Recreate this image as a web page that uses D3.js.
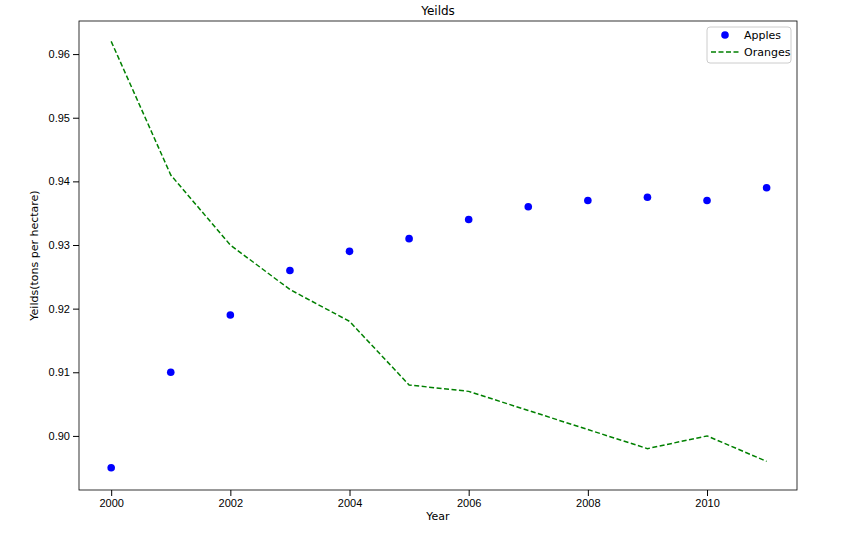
<!DOCTYPE html>
<html><head><meta charset="utf-8">
<script src="https://cdn.jsdelivr.net/npm/d3@7"></script>
<style>body{margin:0;background:#fff;font-family:"DejaVu Sans",sans-serif;}</style>
</head><body><svg id="c" width="858" height="544"></svg>
<script>
const years=[2000,2001,2002,2003,2004,2005,2006,2007,2008,2009,2010,2011];
const apples=[0.895,0.910,0.919,0.926,0.929,0.931,0.934,0.936,0.937,0.9375,0.937,0.939];
const oranges=[0.962,0.941,0.930,0.923,0.918,0.908,0.907,0.904,0.901,0.898,0.900,0.896];
const xTicks=[2000,2002,2004,2006,2008,2010];
const yTicks=[0.90,0.91,0.92,0.93,0.94,0.95,0.96];
const L=79,R=797,T=21,B=490;
const svg=d3.select("#c");
const x=d3.scaleLinear().domain([1999.46,2011.51]).range([L,R]);
const y=d3.scaleLinear().domain([0.8915,0.9652]).range([B,T]);
const fs="11px";
svg.append("g").attr("transform",`translate(0,${B})`).call(d3.axisBottom(x).tickValues(xTicks).tickFormat(d3.format("d")).tickSizeOuter(0))
 .call(g=>{g.select(".domain").remove();g.selectAll("text").style("font-size",fs).attr("fill","#000");});
svg.append("g").attr("transform",`translate(${L},0)`).call(d3.axisLeft(y).tickValues(yTicks).tickFormat(d3.format(".2f")).tickSizeOuter(0))
 .call(g=>{g.select(".domain").remove();g.selectAll("text").style("font-size",fs).attr("fill","#000");});
svg.append("rect").attr("x",L).attr("y",T).attr("width",R-L).attr("height",B-T).attr("fill","none").attr("stroke","#000").attr("stroke-width",0.8);
svg.append("path").datum(years.map((d,i)=>[d,oranges[i]])).attr("d",d3.line().x(d=>x(d[0])).y(d=>y(d[1])))
 .attr("fill","none").attr("stroke","green").attr("stroke-width",1.5).attr("stroke-dasharray","5,2.5");
svg.selectAll(".pt").data(years).enter().append("circle").attr("cx",d=>x(d)).attr("cy",(d,i)=>y(apples[i])).attr("r",3.8).attr("fill","blue");
svg.append("text").attr("x",(L+R)/2).attr("y",15).attr("text-anchor","middle").style("font-size","12px").text("Yeilds");
svg.append("text").attr("x",(L+R)/2).attr("y",520).attr("text-anchor","middle").style("font-size",fs).text("Year");
svg.append("text").attr("transform",`translate(38,${(T+B)/2}) rotate(-90)`).attr("text-anchor","middle").style("font-size",fs).text("Yeilds(tons per hectare)");
const lg=svg.append("g");
lg.append("rect").attr("x",707).attr("y",27).attr("width",84).attr("height",36).attr("rx",3).attr("fill","#fff").attr("stroke","#ccc");
lg.append("circle").attr("cx",725).attr("cy",35).attr("r",3.8).attr("fill","blue");
lg.append("text").attr("x",744).attr("y",39).style("font-size",fs).text("Apples");
lg.append("line").attr("x1",711).attr("x2",739).attr("y1",52).attr("y2",52).attr("stroke","green").attr("stroke-width",1.5).attr("stroke-dasharray","5,2.5");
lg.append("text").attr("x",744).attr("y",56).style("font-size",fs).text("Oranges");
</script></body></html>
